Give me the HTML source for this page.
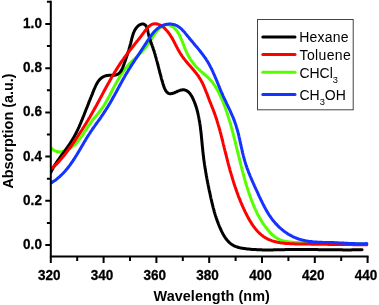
<!DOCTYPE html>
<html lang="en"><head><meta charset="utf-8"><title>Absorption spectra</title>
<style>html,body{margin:0;padding:0;background:#fff;overflow:hidden}svg{display:block}</style></head>
<body>
<svg width="379" height="305" viewBox="0 0 379 305" style="display:block">
<rect width="379" height="305" fill="#ffffff"/>
<clipPath id="pc"><rect x="50" y="0" width="329" height="256"/></clipPath>
<g fill="none" stroke-width="3" stroke-linecap="round" stroke-linejoin="round" clip-path="url(#pc)">
<path stroke="#55ff00" d="M50.9,147.6 L51.5,148.2 L52.1,148.8 L52.6,149.3 L53.2,149.7 L53.8,150.1 L54.5,150.5 L55.1,150.8 L55.7,151.1 L56.3,151.3 L57.0,151.5 L57.6,151.7 L58.2,151.8 L58.9,151.8 L59.5,151.9 L60.2,151.9 L60.8,151.9 L61.5,151.8 L62.1,151.7 L62.8,151.6 L63.4,151.4 L64.1,151.3 L64.7,151.1 L65.4,150.8 L66.0,150.6 L66.6,150.3 L67.3,150.0 L67.9,149.7 L68.5,149.3 L69.1,149.0 L69.7,148.6 L70.3,148.2 L70.9,147.8 L71.5,147.4 L72.0,146.9 L72.6,146.5 L73.2,146.0 L73.7,145.5 L74.2,145.1 L74.7,144.6 L75.2,144.1 L75.7,143.6 L76.2,143.1 L76.7,142.6 L77.2,142.0 L77.6,141.5 L78.1,141.0 L78.5,140.4 L79.0,139.9 L79.4,139.3 L79.8,138.8 L80.3,138.2 L80.7,137.7 L81.1,137.1 L81.5,136.5 L81.9,136.0 L82.3,135.4 L82.7,134.8 L83.1,134.2 L83.4,133.7 L83.8,133.1 L84.2,132.5 L84.6,131.9 L85.0,131.3 L85.3,130.7 L85.7,130.2 L86.1,129.6 L86.5,129.0 L86.8,128.4 L87.2,127.8 L87.6,127.2 L88.0,126.7 L88.4,126.1 L88.7,125.5 L89.1,124.9 L89.5,124.4 L89.9,123.8 L90.3,123.2 L90.7,122.7 L91.1,122.1 L91.6,121.5 L92.0,121.0 L92.4,120.4 L92.8,119.9 L93.3,119.3 L93.7,118.8 L94.1,118.3 L94.6,117.7 L95.0,117.2 L95.5,116.6 L95.9,116.1 L96.4,115.6 L96.8,115.0 L97.3,114.5 L97.7,113.9 L98.1,113.4 L98.6,112.9 L99.0,112.3 L99.5,111.8 L99.9,111.2 L100.3,110.7 L100.7,110.1 L101.1,109.6 L101.6,109.0 L102.0,108.4 L102.4,107.9 L102.8,107.3 L103.1,106.7 L103.5,106.2 L103.9,105.6 L104.3,105.0 L104.6,104.4 L105.0,103.8 L105.3,103.2 L105.7,102.6 L106.0,102.0 L106.4,101.4 L106.7,100.8 L107.1,100.2 L107.4,99.6 L107.7,99.0 L108.0,98.4 L108.4,97.8 L108.7,97.1 L109.0,96.5 L109.3,95.9 L109.7,95.3 L110.0,94.7 L110.3,94.0 L110.6,93.4 L111.0,92.8 L111.3,92.2 L111.6,91.5 L111.9,90.9 L112.2,90.3 L112.6,89.7 L112.9,89.0 L113.2,88.4 L113.6,87.8 L113.9,87.2 L114.2,86.5 L114.6,85.9 L114.9,85.3 L115.2,84.7 L115.6,84.0 L115.9,83.4 L116.3,82.8 L116.6,82.2 L116.9,81.6 L117.3,80.9 L117.7,80.3 L118.0,79.7 L118.4,79.1 L118.7,78.5 L119.1,77.9 L119.5,77.3 L119.8,76.7 L120.2,76.1 L120.6,75.5 L121.0,74.9 L121.4,74.3 L121.7,73.7 L122.1,73.2 L122.5,72.6 L122.9,72.0 L123.3,71.4 L123.8,70.9 L124.2,70.3 L124.6,69.8 L125.0,69.2 L125.4,68.6 L125.9,68.1 L126.3,67.6 L126.7,67.0 L127.2,66.5 L127.6,66.0 L128.1,65.4 L128.6,64.9 L129.0,64.4 L129.5,63.9 L130.0,63.4 L130.5,62.9 L130.9,62.4 L131.4,61.9 L131.9,61.4 L132.4,60.9 L132.9,60.4 L133.4,60.0 L133.9,59.5 L134.4,59.0 L134.9,58.5 L135.4,58.0 L135.9,57.6 L136.4,57.1 L136.9,56.6 L137.4,56.1 L137.9,55.6 L138.4,55.1 L138.9,54.7 L139.4,54.2 L139.9,53.7 L140.4,53.2 L140.9,52.7 L141.4,52.2 L141.8,51.7 L142.3,51.2 L142.8,50.7 L143.3,50.2 L143.7,49.7 L144.2,49.2 L144.7,48.6 L145.1,48.1 L145.5,47.6 L146.0,47.0 L146.4,46.5 L146.8,45.9 L147.3,45.4 L147.7,44.8 L148.1,44.2 L148.5,43.7 L148.9,43.1 L149.3,42.5 L149.6,41.9 L150.0,41.3 L150.4,40.7 L150.8,40.1 L151.2,39.5 L151.6,38.8 L151.9,38.2 L152.3,37.6 L152.7,37.0 L153.1,36.4 L153.5,35.8 L153.9,35.1 L154.3,34.5 L154.8,33.9 L155.2,33.3 L155.7,32.7 L156.1,32.1 L156.6,31.5 L157.1,31.0 L157.5,30.4 L158.0,29.9 L158.5,29.3 L159.0,28.8 L159.5,28.3 L160.0,27.9 L160.6,27.4 L161.1,27.0 L161.6,26.6 L162.2,26.2 L162.7,25.9 L163.3,25.6 L163.8,25.4 L164.4,25.1 L164.9,25.0 L165.5,24.8 L166.1,24.7 L166.6,24.7 L167.2,24.7 L167.8,24.7 L168.4,24.8 L168.9,24.9 L169.5,25.1 L170.1,25.3 L170.6,25.6 L171.2,25.8 L171.8,26.1 L172.3,26.5 L172.9,26.9 L173.4,27.3 L173.9,27.7 L174.4,28.2 L174.9,28.7 L175.4,29.2 L175.9,29.7 L176.3,30.2 L176.8,30.8 L177.2,31.4 L177.6,32.0 L178.0,32.6 L178.4,33.2 L178.8,33.9 L179.1,34.5 L179.5,35.2 L179.8,35.9 L180.1,36.5 L180.4,37.2 L180.7,37.9 L181.0,38.6 L181.3,39.3 L181.6,39.9 L181.9,40.6 L182.2,41.3 L182.5,42.0 L182.7,42.7 L183.0,43.4 L183.3,44.0 L183.5,44.7 L183.8,45.4 L184.0,46.0 L184.3,46.7 L184.5,47.3 L184.8,48.0 L185.1,48.6 L185.3,49.3 L185.6,49.9 L185.8,50.5 L186.1,51.2 L186.4,51.8 L186.7,52.4 L187.0,53.0 L187.2,53.6 L187.5,54.2 L187.9,54.9 L188.2,55.5 L188.5,56.1 L188.8,56.7 L189.2,57.2 L189.5,57.8 L189.9,58.4 L190.2,59.0 L190.6,59.6 L191.0,60.2 L191.4,60.7 L191.8,61.3 L192.2,61.9 L192.6,62.4 L193.1,63.0 L193.5,63.5 L193.9,64.1 L194.4,64.6 L194.8,65.1 L195.3,65.7 L195.8,66.2 L196.3,66.7 L196.7,67.2 L197.2,67.7 L197.7,68.2 L198.2,68.7 L198.7,69.2 L199.2,69.7 L199.8,70.2 L200.3,70.7 L200.8,71.1 L201.3,71.6 L201.9,72.1 L202.4,72.5 L202.9,73.0 L203.5,73.5 L204.0,73.9 L204.5,74.4 L205.0,74.9 L205.6,75.3 L206.1,75.8 L206.6,76.3 L207.1,76.7 L207.6,77.2 L208.2,77.7 L208.7,78.2 L209.1,78.7 L209.6,79.2 L210.1,79.7 L210.6,80.2 L211.0,80.7 L211.5,81.2 L211.9,81.8 L212.4,82.3 L212.8,82.9 L213.2,83.4 L213.6,84.0 L214.0,84.6 L214.4,85.1 L214.8,85.7 L215.2,86.3 L215.5,86.9 L215.9,87.5 L216.3,88.1 L216.6,88.7 L216.9,89.3 L217.3,89.9 L217.6,90.5 L218.0,91.1 L218.3,91.7 L218.6,92.3 L218.9,93.0 L219.2,93.6 L219.5,94.2 L219.8,94.9 L220.2,95.5 L220.4,96.1 L220.7,96.7 L221.0,97.4 L221.3,98.0 L221.6,98.7 L221.9,99.3 L222.2,99.9 L222.4,100.6 L222.7,101.2 L223.0,101.9 L223.2,102.5 L223.5,103.2 L223.8,103.8 L224.0,104.5 L224.3,105.1 L224.5,105.8 L224.8,106.4 L225.0,107.1 L225.3,107.7 L225.5,108.4 L225.7,109.1 L226.0,109.7 L226.2,110.4 L226.4,111.0 L226.7,111.7 L226.9,112.4 L227.1,113.0 L227.3,113.7 L227.6,114.4 L227.8,115.0 L228.0,115.7 L228.2,116.4 L228.4,117.0 L228.6,117.7 L228.8,118.4 L229.0,119.1 L229.2,119.7 L229.4,120.4 L229.6,121.1 L229.8,121.7 L230.0,122.4 L230.2,123.1 L230.4,123.8 L230.6,124.4 L230.8,125.1 L231.0,125.8 L231.2,126.5 L231.4,127.2 L231.6,127.8 L231.8,128.5 L231.9,129.2 L232.1,129.9 L232.3,130.5 L232.5,131.2 L232.7,131.9 L232.8,132.6 L233.0,133.2 L233.2,133.9 L233.4,134.6 L233.6,135.3 L233.7,136.0 L233.9,136.6 L234.1,137.3 L234.2,138.0 L234.4,138.7 L234.6,139.4 L234.8,140.0 L234.9,140.7 L235.1,141.4 L235.3,142.1 L235.4,142.7 L235.6,143.4 L235.8,144.1 L235.9,144.8 L236.1,145.5 L236.3,146.1 L236.4,146.8 L236.6,147.5 L236.8,148.2 L236.9,148.9 L237.1,149.5 L237.3,150.2 L237.4,150.9 L237.6,151.6 L237.8,152.3 L237.9,152.9 L238.1,153.6 L238.3,154.3 L238.4,155.0 L238.6,155.6 L238.8,156.3 L238.9,157.0 L239.1,157.7 L239.3,158.4 L239.4,159.0 L239.6,159.7 L239.8,160.4 L239.9,161.1 L240.1,161.8 L240.3,162.4 L240.4,163.1 L240.6,163.8 L240.8,164.5 L241.0,165.1 L241.1,165.8 L241.3,166.5 L241.5,167.2 L241.7,167.8 L241.8,168.5 L242.0,169.2 L242.2,169.9 L242.4,170.5 L242.5,171.2 L242.7,171.9 L242.9,172.6 L243.1,173.2 L243.3,173.9 L243.4,174.6 L243.6,175.3 L243.8,175.9 L244.0,176.6 L244.2,177.3 L244.4,178.0 L244.6,178.6 L244.7,179.3 L244.9,180.0 L245.1,180.6 L245.3,181.3 L245.5,182.0 L245.7,182.7 L245.9,183.3 L246.1,184.0 L246.3,184.7 L246.5,185.3 L246.7,186.0 L246.9,186.7 L247.1,187.3 L247.4,188.0 L247.6,188.7 L247.8,189.4 L248.0,190.0 L248.2,190.7 L248.4,191.4 L248.6,192.0 L248.9,192.7 L249.1,193.3 L249.3,194.0 L249.5,194.7 L249.8,195.3 L250.0,196.0 L250.2,196.7 L250.5,197.3 L250.7,198.0 L251.0,198.6 L251.2,199.3 L251.4,200.0 L251.7,200.6 L251.9,201.3 L252.2,201.9 L252.5,202.6 L252.7,203.2 L253.0,203.9 L253.2,204.6 L253.5,205.2 L253.8,205.9 L254.1,206.5 L254.3,207.1 L254.6,207.8 L254.9,208.4 L255.2,209.1 L255.5,209.7 L255.8,210.3 L256.1,211.0 L256.4,211.6 L256.7,212.2 L257.0,212.9 L257.3,213.5 L257.6,214.1 L257.9,214.8 L258.3,215.4 L258.6,216.0 L258.9,216.6 L259.3,217.2 L259.6,217.8 L259.9,218.4 L260.3,219.0 L260.6,219.6 L261.0,220.2 L261.4,220.8 L261.7,221.4 L262.1,222.0 L262.5,222.6 L262.9,223.2 L263.3,223.8 L263.7,224.4 L264.1,224.9 L264.5,225.5 L264.9,226.1 L265.3,226.6 L265.7,227.2 L266.1,227.8 L266.6,228.3 L267.0,228.9 L267.5,229.4 L267.9,230.0 L268.4,230.5 L268.8,231.0 L269.3,231.6 L269.8,232.1 L270.2,232.6 L270.7,233.1 L271.2,233.6 L271.7,234.1 L272.2,234.6 L272.7,235.0 L273.3,235.5 L273.8,235.9 L274.3,236.4 L274.9,236.8 L275.4,237.2 L276.0,237.6 L276.6,238.0 L277.2,238.3 L277.7,238.6 L278.3,239.0 L279.0,239.3 L279.6,239.6 L280.2,239.8 L280.8,240.1 L281.5,240.3 L282.1,240.5 L282.8,240.7 L283.5,240.9 L284.1,241.1 L284.8,241.2 L285.5,241.4 L286.2,241.5 L286.9,241.6 L287.6,241.7 L288.3,241.8 L289.0,241.9 L289.7,242.0 L290.4,242.1 L291.1,242.2 L291.8,242.2 L292.5,242.3 L293.2,242.3 L293.9,242.4 L294.7,242.4 L295.4,242.5 L296.1,242.5 L296.8,242.5 L297.5,242.6 L298.2,242.6 L298.9,242.7 L299.6,242.7 L300.3,242.7 L301.0,242.8 L301.7,242.8 L302.4,242.8 L303.1,242.9 L303.8,242.9 L304.5,242.9 L305.2,243.0 L305.9,243.0 L306.6,243.0 L307.3,243.0 L308.0,243.1 L308.7,243.1 L309.4,243.1 L310.1,243.1 L310.8,243.2 L311.5,243.2 L312.2,243.2 L312.9,243.2 L313.6,243.3 L314.3,243.3 L315.0,243.3 L315.7,243.3 L316.4,243.4 L317.1,243.4 L317.8,243.4 L318.5,243.4 L319.2,243.4 L319.9,243.5 L320.6,243.5 L321.3,243.5 L322.0,243.5 L322.7,243.5 L323.4,243.6 L324.1,243.6 L324.8,243.6 L325.5,243.6 L326.2,243.6 L326.9,243.7 L327.6,243.7 L328.3,243.7 L329.0,243.7 L329.7,243.7 L330.4,243.7 L331.1,243.8 L331.8,243.8 L332.5,243.8 L333.2,243.8 L333.9,243.8 L334.6,243.8 L335.3,243.8 L336.0,243.9 L336.7,243.9 L337.4,243.9 L338.1,243.9 L338.8,243.9 L339.5,243.9 L340.2,243.9 L340.9,243.9 L341.6,243.9 L342.3,244.0 L343.0,244.0 L343.7,244.0 L344.4,244.0 L345.1,244.0 L345.8,244.0 L346.5,244.0 L347.2,244.0 L347.9,244.0 L348.6,244.0 L349.3,244.0 L350.0,244.0 L350.7,244.0 L351.4,244.1 L352.1,244.1 L352.8,244.1 L353.5,244.1 L354.2,244.1 L354.9,244.1 L355.6,244.1 L356.3,244.1 L357.0,244.1 L357.7,244.1 L358.4,244.1 L359.1,244.1 L359.8,244.1 L360.5,244.1 L361.2,244.1 L361.9,244.1 L362.6,244.2 L363.3,244.2 L364.0,244.2 L364.7,244.2 L365.4,244.2 L366.1,244.2 L366.8,244.2 L366.8,244.2"/>
<path stroke="#000000" d="M50.8,172.5 L51.1,171.9 L51.4,171.2 L51.7,170.6 L52.0,170.0 L52.4,169.4 L52.7,168.8 L53.0,168.1 L53.4,167.5 L53.7,166.9 L54.1,166.3 L54.5,165.7 L54.8,165.1 L55.2,164.5 L55.6,163.9 L55.9,163.4 L56.3,162.8 L56.7,162.2 L57.1,161.6 L57.5,161.0 L57.9,160.5 L58.3,159.9 L58.7,159.3 L59.1,158.7 L59.5,158.2 L59.9,157.6 L60.3,157.0 L60.7,156.5 L61.1,155.9 L61.5,155.3 L61.9,154.8 L62.4,154.2 L62.8,153.6 L63.2,153.1 L63.6,152.5 L64.0,151.9 L64.4,151.4 L64.8,150.8 L65.3,150.2 L65.7,149.7 L66.1,149.1 L66.5,148.5 L66.9,148.0 L67.3,147.4 L67.7,146.8 L68.1,146.2 L68.5,145.7 L68.9,145.1 L69.3,144.5 L69.7,143.9 L70.1,143.4 L70.5,142.8 L70.8,142.2 L71.2,141.6 L71.6,141.0 L72.0,140.4 L72.3,139.8 L72.7,139.2 L73.1,138.6 L73.4,138.0 L73.8,137.4 L74.1,136.8 L74.4,136.2 L74.8,135.6 L75.1,134.9 L75.4,134.3 L75.7,133.7 L76.1,133.1 L76.4,132.5 L76.7,131.8 L77.0,131.2 L77.3,130.6 L77.6,129.9 L77.9,129.3 L78.2,128.7 L78.5,128.0 L78.8,127.4 L79.1,126.8 L79.4,126.1 L79.6,125.5 L79.9,124.8 L80.2,124.2 L80.5,123.5 L80.8,122.9 L81.0,122.2 L81.3,121.6 L81.6,120.9 L81.8,120.3 L82.1,119.6 L82.4,119.0 L82.6,118.4 L82.9,117.7 L83.1,117.1 L83.4,116.4 L83.7,115.8 L83.9,115.1 L84.2,114.5 L84.4,113.8 L84.7,113.2 L84.9,112.5 L85.2,111.9 L85.4,111.2 L85.7,110.6 L85.9,109.9 L86.2,109.3 L86.4,108.6 L86.7,108.0 L87.0,107.3 L87.2,106.7 L87.5,106.1 L87.7,105.4 L88.0,104.8 L88.2,104.1 L88.5,103.5 L88.7,102.9 L89.0,102.2 L89.2,101.6 L89.5,100.9 L89.8,100.3 L90.0,99.6 L90.3,99.0 L90.5,98.4 L90.8,97.7 L91.1,97.0 L91.3,96.4 L91.6,95.7 L91.9,95.1 L92.1,94.4 L92.4,93.8 L92.7,93.1 L92.9,92.4 L93.2,91.7 L93.5,91.1 L93.7,90.4 L94.0,89.7 L94.3,89.0 L94.6,88.4 L94.9,87.7 L95.2,87.0 L95.5,86.3 L95.8,85.7 L96.1,85.0 L96.4,84.4 L96.8,83.8 L97.1,83.2 L97.5,82.6 L97.8,82.0 L98.2,81.4 L98.6,80.9 L99.1,80.3 L99.5,79.8 L99.9,79.3 L100.4,78.9 L100.9,78.4 L101.4,78.0 L101.9,77.6 L102.4,77.3 L103.0,76.9 L103.6,76.6 L104.2,76.4 L104.8,76.1 L105.4,75.9 L106.1,75.7 L106.8,75.6 L107.5,75.5 L108.2,75.4 L108.9,75.3 L109.7,75.3 L110.4,75.3 L111.2,75.3 L112.0,75.3 L112.7,75.3 L113.5,75.3 L114.2,75.3 L114.9,75.2 L115.6,75.1 L116.2,74.9 L116.8,74.7 L117.4,74.4 L118.0,74.1 L118.5,73.7 L119.0,73.3 L119.5,72.9 L119.9,72.4 L120.3,71.9 L120.7,71.3 L121.1,70.8 L121.5,70.2 L121.8,69.5 L122.1,68.9 L122.4,68.2 L122.7,67.6 L123.0,66.9 L123.3,66.2 L123.5,65.5 L123.8,64.8 L124.1,64.1 L124.3,63.4 L124.5,62.7 L124.8,62.0 L125.0,61.4 L125.3,60.7 L125.5,60.0 L125.7,59.3 L126.0,58.7 L126.2,58.0 L126.4,57.4 L126.6,56.7 L126.8,56.1 L127.1,55.4 L127.3,54.8 L127.5,54.1 L127.7,53.5 L127.9,52.8 L128.1,52.2 L128.3,51.5 L128.5,50.9 L128.7,50.2 L128.9,49.6 L129.1,48.9 L129.3,48.3 L129.5,47.6 L129.7,46.9 L129.9,46.3 L130.0,45.6 L130.2,44.9 L130.4,44.2 L130.6,43.6 L130.8,42.9 L130.9,42.2 L131.1,41.5 L131.3,40.8 L131.5,40.1 L131.6,39.3 L131.8,38.6 L132.0,37.9 L132.2,37.2 L132.4,36.5 L132.6,35.8 L132.8,35.1 L133.0,34.4 L133.3,33.7 L133.5,33.0 L133.8,32.3 L134.1,31.7 L134.4,31.0 L134.7,30.4 L135.0,29.8 L135.4,29.2 L135.8,28.6 L136.2,28.0 L136.6,27.5 L137.1,27.0 L137.5,26.5 L138.0,26.0 L138.6,25.6 L139.1,25.2 L139.7,24.8 L140.3,24.5 L140.9,24.3 L141.5,24.1 L142.1,24.0 L142.7,24.0 L143.2,24.0 L143.8,24.2 L144.3,24.4 L144.8,24.7 L145.3,25.1 L145.7,25.5 L146.1,26.0 L146.4,26.6 L146.7,27.2 L147.0,27.8 L147.2,28.5 L147.4,29.2 L147.6,29.9 L147.8,30.6 L147.9,31.3 L148.1,32.1 L148.2,32.8 L148.4,33.6 L148.6,34.3 L148.7,35.1 L148.9,35.8 L149.1,36.5 L149.3,37.2 L149.5,37.9 L149.7,38.6 L150.0,39.3 L150.2,40.0 L150.4,40.7 L150.6,41.4 L150.9,42.1 L151.1,42.7 L151.3,43.4 L151.6,44.1 L151.8,44.7 L152.1,45.4 L152.3,46.1 L152.5,46.7 L152.8,47.4 L153.0,48.0 L153.2,48.7 L153.4,49.3 L153.6,50.0 L153.9,50.6 L154.1,51.3 L154.3,51.9 L154.5,52.6 L154.7,53.2 L154.9,53.9 L155.1,54.5 L155.3,55.2 L155.4,55.8 L155.6,56.5 L155.8,57.1 L156.0,57.8 L156.2,58.5 L156.4,59.1 L156.5,59.8 L156.7,60.4 L156.9,61.1 L157.1,61.7 L157.2,62.4 L157.4,63.0 L157.6,63.7 L157.8,64.4 L157.9,65.0 L158.1,65.7 L158.3,66.4 L158.5,67.0 L158.6,67.7 L158.8,68.4 L159.0,69.0 L159.1,69.7 L159.3,70.4 L159.5,71.1 L159.7,71.8 L159.8,72.5 L160.0,73.1 L160.2,73.8 L160.4,74.5 L160.6,75.2 L160.8,75.9 L161.0,76.6 L161.1,77.3 L161.3,78.0 L161.5,78.8 L161.7,79.5 L161.9,80.2 L162.1,80.9 L162.4,81.6 L162.6,82.4 L162.8,83.1 L163.0,83.9 L163.2,84.6 L163.5,85.3 L163.7,86.0 L164.0,86.8 L164.2,87.5 L164.5,88.1 L164.8,88.8 L165.1,89.4 L165.4,90.0 L165.7,90.6 L166.1,91.1 L166.4,91.6 L166.8,92.1 L167.2,92.5 L167.7,92.8 L168.1,93.1 L168.6,93.4 L169.1,93.6 L169.7,93.7 L170.2,93.7 L170.8,93.7 L171.4,93.6 L172.1,93.5 L172.8,93.3 L173.5,93.1 L174.2,92.8 L174.9,92.5 L175.6,92.2 L176.4,91.9 L177.1,91.5 L177.8,91.2 L178.6,90.9 L179.3,90.6 L180.0,90.4 L180.7,90.1 L181.4,90.0 L182.1,89.9 L182.8,89.8 L183.4,89.8 L184.0,89.8 L184.6,89.9 L185.2,90.1 L185.8,90.3 L186.3,90.5 L186.8,90.8 L187.4,91.2 L187.8,91.5 L188.3,91.9 L188.8,92.4 L189.2,92.8 L189.7,93.3 L190.1,93.8 L190.5,94.4 L190.9,95.0 L191.3,95.6 L191.7,96.2 L192.0,96.8 L192.4,97.5 L192.7,98.1 L193.0,98.8 L193.3,99.5 L193.6,100.1 L193.9,100.8 L194.2,101.5 L194.5,102.2 L194.7,102.9 L195.0,103.6 L195.2,104.2 L195.5,104.9 L195.7,105.6 L195.9,106.3 L196.2,107.0 L196.4,107.6 L196.6,108.3 L196.8,109.0 L197.0,109.7 L197.1,110.4 L197.3,111.0 L197.5,111.7 L197.7,112.4 L197.8,113.1 L198.0,113.7 L198.1,114.4 L198.3,115.1 L198.4,115.8 L198.6,116.4 L198.7,117.1 L198.8,117.8 L199.0,118.5 L199.1,119.2 L199.2,119.8 L199.3,120.5 L199.4,121.2 L199.6,121.9 L199.7,122.6 L199.8,123.3 L199.9,123.9 L200.0,124.6 L200.1,125.3 L200.2,126.0 L200.3,126.7 L200.4,127.4 L200.5,128.1 L200.5,128.7 L200.6,129.4 L200.7,130.1 L200.8,130.8 L200.9,131.5 L201.0,132.2 L201.0,132.9 L201.1,133.6 L201.2,134.3 L201.3,135.0 L201.3,135.7 L201.4,136.4 L201.5,137.1 L201.5,137.8 L201.6,138.4 L201.7,139.1 L201.7,139.8 L201.8,140.5 L201.9,141.2 L201.9,141.9 L202.0,142.6 L202.1,143.3 L202.1,144.0 L202.2,144.7 L202.3,145.4 L202.3,146.1 L202.4,146.8 L202.5,147.5 L202.6,148.2 L202.6,148.9 L202.7,149.6 L202.8,150.3 L202.8,151.0 L202.9,151.7 L203.0,152.4 L203.1,153.1 L203.1,153.8 L203.2,154.5 L203.3,155.2 L203.4,155.9 L203.5,156.6 L203.6,157.3 L203.6,158.0 L203.7,158.7 L203.8,159.4 L203.9,160.1 L204.0,160.8 L204.1,161.5 L204.2,162.2 L204.3,162.9 L204.4,163.6 L204.5,164.3 L204.6,164.9 L204.7,165.6 L204.8,166.3 L204.9,167.0 L205.0,167.7 L205.1,168.4 L205.3,169.1 L205.4,169.8 L205.5,170.5 L205.6,171.2 L205.7,171.9 L205.8,172.6 L206.0,173.3 L206.1,174.0 L206.2,174.7 L206.3,175.4 L206.4,176.0 L206.6,176.7 L206.7,177.4 L206.8,178.1 L206.9,178.8 L207.1,179.5 L207.2,180.2 L207.3,180.9 L207.5,181.6 L207.6,182.3 L207.7,182.9 L207.9,183.6 L208.0,184.3 L208.2,185.0 L208.3,185.7 L208.4,186.4 L208.6,187.1 L208.7,187.7 L208.8,188.4 L209.0,189.1 L209.1,189.8 L209.3,190.5 L209.4,191.2 L209.6,191.8 L209.7,192.5 L209.9,193.2 L210.0,193.9 L210.2,194.6 L210.3,195.2 L210.4,195.9 L210.6,196.6 L210.7,197.3 L210.9,198.0 L211.0,198.6 L211.2,199.3 L211.4,200.0 L211.5,200.7 L211.7,201.3 L211.8,202.0 L212.0,202.7 L212.1,203.4 L212.3,204.0 L212.5,204.7 L212.6,205.4 L212.8,206.0 L213.0,206.7 L213.1,207.4 L213.3,208.1 L213.5,208.7 L213.7,209.4 L213.9,210.1 L214.0,210.7 L214.2,211.4 L214.4,212.1 L214.6,212.7 L214.8,213.4 L215.0,214.1 L215.2,214.7 L215.4,215.4 L215.6,216.1 L215.8,216.7 L216.1,217.4 L216.3,218.1 L216.5,218.7 L216.7,219.4 L217.0,220.1 L217.2,220.7 L217.4,221.4 L217.7,222.0 L217.9,222.7 L218.2,223.4 L218.4,224.0 L218.7,224.7 L219.0,225.3 L219.2,226.0 L219.5,226.7 L219.8,227.3 L220.1,228.0 L220.4,228.6 L220.7,229.3 L221.0,230.0 L221.3,230.6 L221.6,231.3 L221.9,231.9 L222.3,232.6 L222.6,233.2 L222.9,233.9 L223.3,234.5 L223.7,235.1 L224.0,235.8 L224.4,236.4 L224.8,237.0 L225.2,237.6 L225.6,238.2 L226.0,238.7 L226.4,239.3 L226.8,239.8 L227.3,240.4 L227.7,240.9 L228.2,241.4 L228.7,241.9 L229.2,242.4 L229.7,242.8 L230.2,243.3 L230.7,243.7 L231.2,244.1 L231.8,244.5 L232.3,244.8 L232.9,245.2 L233.5,245.5 L234.1,245.8 L234.7,246.1 L235.3,246.4 L236.0,246.6 L236.6,246.8 L237.3,247.0 L237.9,247.3 L238.6,247.4 L239.2,247.6 L239.9,247.8 L240.6,247.9 L241.3,248.1 L242.0,248.2 L242.7,248.3 L243.4,248.4 L244.1,248.5 L244.8,248.6 L245.5,248.7 L246.2,248.8 L246.9,248.9 L247.6,249.0 L248.3,249.1 L249.0,249.1 L249.7,249.2 L250.4,249.3 L251.1,249.3 L251.8,249.4 L252.5,249.4 L253.2,249.5 L254.0,249.5 L254.7,249.6 L255.4,249.6 L256.1,249.6 L256.8,249.7 L257.5,249.7 L258.2,249.7 L258.9,249.8 L259.6,249.8 L260.3,249.8 L261.0,249.8 L261.7,249.8 L262.4,249.9 L263.1,249.9 L263.8,249.9 L264.5,249.9 L265.2,249.9 L265.9,249.9 L266.6,249.9 L267.3,249.9 L268.0,249.9 L268.7,249.9 L269.4,249.9 L270.1,249.9 L270.8,249.9 L271.5,249.9 L272.2,249.9 L272.9,249.9 L273.6,249.8 L274.3,249.8 L275.0,249.8 L275.7,249.8 L276.4,249.8 L277.1,249.8 L277.8,249.8 L278.5,249.8 L279.1,249.8 L279.8,249.7 L280.5,249.7 L281.2,249.7 L281.9,249.7 L282.6,249.7 L283.3,249.7 L284.0,249.7 L284.7,249.7 L285.4,249.6 L286.1,249.6 L286.8,249.6 L287.5,249.6 L288.2,249.6 L288.9,249.6 L289.6,249.6 L290.3,249.6 L291.0,249.6 L291.7,249.6 L292.4,249.6 L293.1,249.6 L293.8,249.6 L294.5,249.6 L295.2,249.6 L295.9,249.5 L296.6,249.5 L297.3,249.5 L298.0,249.5 L298.7,249.5 L299.4,249.5 L300.1,249.5 L300.8,249.5 L301.5,249.5 L302.2,249.5 L302.9,249.5 L303.6,249.6 L304.3,249.6 L305.0,249.6 L305.7,249.6 L306.4,249.6 L307.1,249.6 L307.8,249.6 L308.5,249.6 L309.2,249.6 L309.9,249.6 L310.6,249.6 L311.3,249.6 L312.0,249.6 L312.7,249.6 L313.4,249.6 L314.1,249.6 L314.8,249.6 L315.5,249.6 L316.2,249.6 L316.9,249.6 L317.6,249.6 L318.3,249.7 L319.0,249.7 L319.7,249.7 L320.4,249.7 L321.1,249.7 L321.8,249.7 L322.5,249.7 L323.2,249.7 L323.9,249.7 L324.6,249.7 L325.3,249.7 L326.0,249.7 L326.7,249.7 L327.4,249.7 L328.1,249.7 L328.8,249.8 L329.5,249.8 L330.2,249.8 L330.9,249.8 L331.6,249.8 L332.3,249.8 L333.0,249.8 L333.7,249.8 L334.4,249.8 L335.1,249.8 L335.8,249.8 L336.5,249.8 L337.2,249.8 L337.9,249.8 L338.7,249.8 L339.4,249.8 L340.1,249.8 L340.8,249.8 L341.5,249.8 L342.2,249.8 L342.9,249.9 L343.6,249.9 L344.3,249.9 L345.0,249.9 L345.7,249.9 L346.4,249.9 L347.1,249.9 L347.8,249.9 L348.5,249.9 L349.2,249.9 L349.9,249.9 L350.6,249.9 L351.3,249.9 L352.0,249.8 L352.7,249.8 L353.3,249.8 L354.0,249.8 L354.7,249.8 L355.4,249.8 L356.1,249.8 L356.8,249.8 L357.5,249.8 L358.2,249.8 L358.9,249.8 L359.6,249.8 L360.3,249.8 L361.0,249.8 L361.7,249.8 L362.0,249.7"/>
<path stroke="#ff0000" d="M50.8,169.3 L51.3,168.9 L51.9,168.4 L52.4,167.9 L52.9,167.5 L53.4,167.0 L53.9,166.5 L54.4,166.1 L54.9,165.6 L55.4,165.1 L55.9,164.6 L56.4,164.1 L56.9,163.6 L57.4,163.1 L57.9,162.6 L58.3,162.1 L58.8,161.6 L59.3,161.1 L59.7,160.6 L60.2,160.0 L60.7,159.5 L61.1,159.0 L61.6,158.5 L62.0,157.9 L62.5,157.4 L62.9,156.9 L63.4,156.3 L63.8,155.8 L64.2,155.2 L64.7,154.7 L65.1,154.1 L65.5,153.6 L66.0,153.0 L66.4,152.5 L66.8,151.9 L67.3,151.3 L67.7,150.8 L68.1,150.2 L68.5,149.6 L68.9,149.1 L69.3,148.5 L69.7,147.9 L70.2,147.4 L70.6,146.8 L71.0,146.2 L71.4,145.7 L71.8,145.1 L72.2,144.5 L72.6,143.9 L73.0,143.4 L73.4,142.8 L73.8,142.2 L74.2,141.6 L74.6,141.0 L75.0,140.5 L75.3,139.9 L75.7,139.3 L76.1,138.7 L76.5,138.1 L76.9,137.6 L77.3,137.0 L77.7,136.4 L78.1,135.8 L78.5,135.2 L78.8,134.7 L79.2,134.1 L79.6,133.5 L80.0,132.9 L80.4,132.3 L80.8,131.7 L81.1,131.2 L81.5,130.6 L81.9,130.0 L82.3,129.4 L82.6,128.8 L83.0,128.2 L83.4,127.6 L83.8,127.1 L84.1,126.5 L84.5,125.9 L84.9,125.3 L85.2,124.7 L85.6,124.1 L86.0,123.5 L86.3,122.9 L86.7,122.3 L87.1,121.7 L87.4,121.1 L87.8,120.5 L88.1,119.9 L88.5,119.3 L88.8,118.7 L89.2,118.1 L89.6,117.5 L89.9,116.9 L90.3,116.3 L90.6,115.7 L91.0,115.1 L91.3,114.5 L91.7,113.9 L92.0,113.3 L92.3,112.7 L92.7,112.1 L93.0,111.5 L93.4,110.9 L93.7,110.3 L94.1,109.7 L94.4,109.0 L94.7,108.4 L95.1,107.8 L95.4,107.2 L95.8,106.6 L96.1,106.0 L96.4,105.4 L96.8,104.7 L97.1,104.1 L97.4,103.5 L97.8,102.9 L98.1,102.3 L98.4,101.7 L98.8,101.0 L99.1,100.4 L99.4,99.8 L99.8,99.2 L100.1,98.6 L100.4,97.9 L100.8,97.3 L101.1,96.7 L101.4,96.1 L101.8,95.5 L102.1,94.8 L102.4,94.2 L102.7,93.6 L103.1,93.0 L103.4,92.4 L103.7,91.8 L104.1,91.1 L104.4,90.5 L104.7,89.9 L105.1,89.3 L105.4,88.7 L105.7,88.0 L106.1,87.4 L106.4,86.8 L106.8,86.2 L107.1,85.6 L107.4,85.0 L107.8,84.4 L108.1,83.7 L108.4,83.1 L108.8,82.5 L109.1,81.9 L109.5,81.3 L109.8,80.7 L110.2,80.1 L110.5,79.5 L110.9,78.9 L111.2,78.2 L111.5,77.6 L111.9,77.0 L112.2,76.4 L112.6,75.8 L113.0,75.2 L113.3,74.6 L113.7,74.0 L114.0,73.4 L114.4,72.8 L114.7,72.2 L115.1,71.6 L115.5,71.0 L115.8,70.4 L116.2,69.8 L116.6,69.3 L116.9,68.7 L117.3,68.1 L117.7,67.5 L118.0,66.9 L118.4,66.3 L118.8,65.7 L119.2,65.2 L119.6,64.6 L119.9,64.0 L120.3,63.4 L120.7,62.8 L121.1,62.3 L121.5,61.7 L121.9,61.1 L122.3,60.6 L122.7,60.0 L123.1,59.4 L123.5,58.9 L123.9,58.3 L124.3,57.7 L124.7,57.2 L125.1,56.6 L125.5,56.1 L125.9,55.5 L126.3,55.0 L126.8,54.4 L127.2,53.9 L127.6,53.3 L128.0,52.8 L128.4,52.2 L128.9,51.7 L129.3,51.1 L129.7,50.6 L130.2,50.0 L130.6,49.5 L131.0,48.9 L131.5,48.4 L131.9,47.8 L132.3,47.3 L132.8,46.7 L133.2,46.2 L133.6,45.6 L134.1,45.1 L134.5,44.5 L134.9,44.0 L135.4,43.4 L135.8,42.9 L136.3,42.3 L136.7,41.8 L137.1,41.2 L137.6,40.6 L138.0,40.1 L138.5,39.5 L138.9,39.0 L139.4,38.4 L139.8,37.8 L140.2,37.3 L140.7,36.7 L141.1,36.1 L141.6,35.5 L142.0,35.0 L142.4,34.4 L142.9,33.8 L143.3,33.2 L143.8,32.6 L144.2,32.0 L144.6,31.4 L145.1,30.9 L145.5,30.3 L146.0,29.7 L146.4,29.1 L146.9,28.6 L147.3,28.0 L147.8,27.5 L148.3,27.0 L148.8,26.6 L149.3,26.1 L149.8,25.7 L150.3,25.3 L150.9,25.0 L151.4,24.7 L152.0,24.4 L152.6,24.2 L153.2,24.0 L153.8,23.9 L154.5,23.8 L155.1,23.8 L155.8,23.8 L156.4,23.9 L157.1,24.0 L157.8,24.1 L158.4,24.3 L159.1,24.6 L159.7,24.8 L160.4,25.2 L161.0,25.5 L161.6,25.9 L162.2,26.3 L162.8,26.7 L163.3,27.2 L163.9,27.7 L164.4,28.1 L164.9,28.6 L165.4,29.1 L165.9,29.7 L166.4,30.2 L166.9,30.7 L167.3,31.2 L167.8,31.8 L168.2,32.3 L168.6,32.9 L169.0,33.5 L169.5,34.0 L169.8,34.6 L170.2,35.2 L170.6,35.8 L171.0,36.4 L171.4,37.0 L171.7,37.6 L172.1,38.2 L172.4,38.8 L172.8,39.4 L173.1,40.0 L173.4,40.6 L173.8,41.3 L174.1,41.9 L174.4,42.5 L174.8,43.1 L175.1,43.8 L175.4,44.4 L175.7,45.0 L176.1,45.6 L176.4,46.3 L176.7,46.9 L177.0,47.5 L177.4,48.1 L177.7,48.8 L178.0,49.4 L178.3,50.0 L178.7,50.6 L179.0,51.2 L179.4,51.8 L179.7,52.4 L180.1,53.1 L180.5,53.6 L180.8,54.2 L181.2,54.8 L181.6,55.4 L182.0,56.0 L182.4,56.6 L182.8,57.1 L183.2,57.7 L183.6,58.3 L184.0,58.8 L184.5,59.4 L184.9,59.9 L185.3,60.4 L185.8,61.0 L186.2,61.5 L186.7,62.1 L187.1,62.6 L187.6,63.1 L188.0,63.7 L188.5,64.2 L189.0,64.7 L189.4,65.3 L189.9,65.8 L190.3,66.3 L190.8,66.8 L191.3,67.4 L191.7,67.9 L192.2,68.4 L192.6,68.9 L193.1,69.5 L193.5,70.0 L194.0,70.5 L194.4,71.1 L194.9,71.6 L195.3,72.2 L195.8,72.7 L196.2,73.3 L196.6,73.8 L197.0,74.4 L197.4,74.9 L197.9,75.5 L198.3,76.0 L198.6,76.6 L199.0,77.2 L199.4,77.8 L199.8,78.4 L200.1,78.9 L200.5,79.5 L200.8,80.1 L201.2,80.8 L201.5,81.4 L201.8,82.0 L202.2,82.6 L202.5,83.2 L202.8,83.9 L203.1,84.5 L203.4,85.1 L203.7,85.8 L203.9,86.4 L204.2,87.0 L204.5,87.7 L204.8,88.3 L205.0,89.0 L205.3,89.6 L205.6,90.3 L205.8,91.0 L206.1,91.6 L206.3,92.3 L206.6,92.9 L206.9,93.6 L207.1,94.2 L207.4,94.9 L207.6,95.6 L207.9,96.2 L208.1,96.9 L208.4,97.5 L208.6,98.2 L208.9,98.8 L209.1,99.5 L209.4,100.2 L209.6,100.8 L209.9,101.5 L210.1,102.1 L210.4,102.7 L210.7,103.4 L210.9,104.0 L211.2,104.7 L211.4,105.3 L211.7,106.0 L211.9,106.6 L212.2,107.3 L212.5,107.9 L212.7,108.6 L213.0,109.2 L213.2,109.9 L213.5,110.5 L213.7,111.1 L213.9,111.8 L214.2,112.4 L214.4,113.1 L214.7,113.8 L214.9,114.4 L215.1,115.1 L215.4,115.7 L215.6,116.4 L215.8,117.0 L216.0,117.7 L216.3,118.4 L216.5,119.0 L216.7,119.7 L216.9,120.4 L217.1,121.0 L217.3,121.7 L217.5,122.4 L217.7,123.0 L217.9,123.7 L218.1,124.4 L218.3,125.1 L218.5,125.7 L218.7,126.4 L218.9,127.1 L219.1,127.8 L219.3,128.4 L219.5,129.1 L219.7,129.8 L219.9,130.5 L220.1,131.2 L220.2,131.8 L220.4,132.5 L220.6,133.2 L220.8,133.9 L221.0,134.6 L221.1,135.3 L221.3,135.9 L221.5,136.6 L221.7,137.3 L221.8,138.0 L222.0,138.7 L222.2,139.4 L222.3,140.0 L222.5,140.7 L222.7,141.4 L222.9,142.1 L223.0,142.8 L223.2,143.5 L223.4,144.1 L223.5,144.8 L223.7,145.5 L223.9,146.2 L224.0,146.9 L224.2,147.6 L224.4,148.2 L224.5,148.9 L224.7,149.6 L224.9,150.3 L225.0,151.0 L225.2,151.6 L225.4,152.3 L225.6,153.0 L225.7,153.7 L225.9,154.3 L226.1,155.0 L226.2,155.7 L226.4,156.4 L226.6,157.1 L226.7,157.7 L226.9,158.4 L227.1,159.1 L227.3,159.8 L227.4,160.4 L227.6,161.1 L227.8,161.8 L228.0,162.5 L228.1,163.1 L228.3,163.8 L228.5,164.5 L228.7,165.1 L228.9,165.8 L229.0,166.5 L229.2,167.2 L229.4,167.8 L229.6,168.5 L229.8,169.2 L229.9,169.8 L230.1,170.5 L230.3,171.2 L230.5,171.8 L230.7,172.5 L230.9,173.2 L231.1,173.9 L231.3,174.5 L231.5,175.2 L231.7,175.9 L231.9,176.5 L232.1,177.2 L232.2,177.9 L232.5,178.5 L232.7,179.2 L232.9,179.8 L233.1,180.5 L233.3,181.2 L233.5,181.8 L233.7,182.5 L233.9,183.2 L234.1,183.8 L234.3,184.5 L234.5,185.1 L234.8,185.8 L235.0,186.5 L235.2,187.1 L235.4,187.8 L235.6,188.4 L235.9,189.1 L236.1,189.8 L236.3,190.4 L236.6,191.1 L236.8,191.7 L237.0,192.4 L237.3,193.0 L237.5,193.7 L237.8,194.4 L238.0,195.0 L238.2,195.7 L238.5,196.3 L238.7,197.0 L239.0,197.6 L239.3,198.3 L239.5,198.9 L239.8,199.6 L240.0,200.2 L240.3,200.9 L240.6,201.5 L240.8,202.2 L241.1,202.8 L241.4,203.5 L241.7,204.1 L242.0,204.8 L242.2,205.4 L242.5,206.1 L242.8,206.7 L243.1,207.4 L243.4,208.0 L243.7,208.7 L244.0,209.3 L244.3,210.0 L244.6,210.6 L244.9,211.3 L245.2,211.9 L245.5,212.5 L245.9,213.2 L246.2,213.8 L246.5,214.5 L246.8,215.1 L247.2,215.7 L247.5,216.4 L247.8,217.0 L248.2,217.7 L248.5,218.3 L248.9,218.9 L249.2,219.5 L249.6,220.2 L249.9,220.8 L250.3,221.4 L250.7,222.0 L251.1,222.6 L251.4,223.2 L251.8,223.8 L252.2,224.4 L252.6,225.0 L253.0,225.6 L253.4,226.1 L253.8,226.7 L254.2,227.3 L254.7,227.8 L255.1,228.4 L255.5,228.9 L256.0,229.5 L256.4,230.0 L256.9,230.5 L257.3,231.0 L257.8,231.5 L258.2,232.0 L258.7,232.5 L259.2,233.0 L259.7,233.4 L260.2,233.9 L260.7,234.3 L261.2,234.8 L261.7,235.2 L262.2,235.6 L262.8,236.0 L263.3,236.4 L263.9,236.8 L264.4,237.2 L265.0,237.5 L265.5,237.9 L266.1,238.2 L266.7,238.5 L267.3,238.8 L267.9,239.1 L268.5,239.4 L269.1,239.7 L269.7,239.9 L270.4,240.2 L271.0,240.4 L271.6,240.7 L272.3,240.9 L272.9,241.1 L273.6,241.3 L274.3,241.5 L274.9,241.6 L275.6,241.8 L276.3,242.0 L277.0,242.1 L277.7,242.3 L278.3,242.4 L279.0,242.5 L279.7,242.6 L280.4,242.8 L281.1,242.9 L281.9,243.0 L282.6,243.1 L283.3,243.1 L284.0,243.2 L284.7,243.3 L285.4,243.4 L286.2,243.4 L286.9,243.5 L287.6,243.5 L288.3,243.6 L289.1,243.6 L289.8,243.7 L290.5,243.7 L291.2,243.7 L292.0,243.8 L292.7,243.8 L293.4,243.8 L294.2,243.8 L294.9,243.9 L295.6,243.9 L296.3,243.9 L297.1,243.9 L297.8,243.9 L298.5,243.9 L299.2,244.0 L299.9,244.0 L300.6,244.0 L301.3,244.0 L302.0,244.0 L302.8,244.0 L303.5,244.0 L304.2,244.0 L304.9,244.1 L305.6,244.1 L306.3,244.1 L307.0,244.1 L307.6,244.1 L308.3,244.1 L309.0,244.1 L309.7,244.1 L310.4,244.1 L311.1,244.2 L311.8,244.2 L312.5,244.2 L313.2,244.2 L313.9,244.2 L314.5,244.2 L315.2,244.2 L315.9,244.2 L316.6,244.2 L317.3,244.2 L318.0,244.2 L318.6,244.2 L319.3,244.3 L320.0,244.3 L320.7,244.3 L321.4,244.3 L322.1,244.3 L322.7,244.3 L323.4,244.3 L324.1,244.3 L324.8,244.3 L325.5,244.3 L326.2,244.3 L326.9,244.3 L327.6,244.3 L328.2,244.4 L328.9,244.4 L329.6,244.4 L330.3,244.4 L331.0,244.4 L331.7,244.4 L332.4,244.4 L333.1,244.4 L333.8,244.4 L334.5,244.4 L335.2,244.4 L335.9,244.4 L336.6,244.5 L337.3,244.5 L338.1,244.5 L338.8,244.5 L339.5,244.5 L340.2,244.5 L340.9,244.5 L341.6,244.5 L342.3,244.5 L343.0,244.5 L343.7,244.5 L344.4,244.6 L345.2,244.6 L345.9,244.6 L346.6,244.6 L347.3,244.6 L348.0,244.6 L348.7,244.6 L349.4,244.6 L350.1,244.6 L350.9,244.6 L351.6,244.6 L352.3,244.6 L353.0,244.7 L353.7,244.7 L354.4,244.7 L355.1,244.7 L355.8,244.7 L356.5,244.7 L357.2,244.7 L357.9,244.7 L358.6,244.7 L359.3,244.7 L360.0,244.7 L360.7,244.7 L361.4,244.8 L362.1,244.8 L362.8,244.8 L363.5,244.8 L364.2,244.8 L364.8,244.8 L365.5,244.8 L366.2,244.8 L366.8,244.8"/>
<path stroke="#1433ff" d="M50.8,183.2 L51.4,182.8 L52.0,182.4 L52.6,182.0 L53.2,181.6 L53.8,181.2 L54.4,180.8 L55.0,180.4 L55.6,180.0 L56.1,179.6 L56.7,179.1 L57.2,178.7 L57.8,178.3 L58.3,177.8 L58.8,177.3 L59.4,176.9 L59.9,176.4 L60.4,175.9 L60.9,175.5 L61.4,175.0 L61.9,174.5 L62.4,174.0 L62.9,173.5 L63.4,173.0 L63.8,172.5 L64.3,172.0 L64.8,171.5 L65.2,171.0 L65.7,170.4 L66.1,169.9 L66.6,169.4 L67.0,168.9 L67.5,168.3 L67.9,167.8 L68.3,167.2 L68.7,166.7 L69.2,166.1 L69.6,165.6 L70.0,165.0 L70.4,164.5 L70.8,163.9 L71.2,163.3 L71.6,162.8 L72.0,162.2 L72.4,161.6 L72.8,161.0 L73.2,160.5 L73.6,159.9 L73.9,159.3 L74.3,158.7 L74.7,158.1 L75.1,157.5 L75.4,156.9 L75.8,156.3 L76.2,155.7 L76.6,155.1 L76.9,154.6 L77.3,154.0 L77.7,153.4 L78.0,152.7 L78.4,152.1 L78.7,151.5 L79.1,150.9 L79.5,150.3 L79.8,149.7 L80.2,149.1 L80.5,148.5 L80.9,147.9 L81.2,147.3 L81.6,146.7 L81.9,146.1 L82.3,145.5 L82.7,144.9 L83.0,144.3 L83.4,143.7 L83.7,143.0 L84.1,142.4 L84.4,141.8 L84.8,141.2 L85.2,140.6 L85.5,140.0 L85.9,139.4 L86.2,138.8 L86.6,138.2 L87.0,137.6 L87.3,137.0 L87.7,136.4 L88.1,135.8 L88.5,135.2 L88.8,134.6 L89.2,134.1 L89.6,133.5 L90.0,132.9 L90.4,132.3 L90.7,131.7 L91.1,131.1 L91.5,130.6 L91.9,130.0 L92.3,129.4 L92.7,128.8 L93.1,128.3 L93.5,127.7 L93.9,127.1 L94.3,126.6 L94.7,126.0 L95.1,125.4 L95.5,124.9 L95.9,124.3 L96.3,123.7 L96.7,123.2 L97.1,122.6 L97.5,122.0 L98.0,121.5 L98.4,120.9 L98.8,120.3 L99.2,119.8 L99.6,119.2 L100.0,118.7 L100.4,118.1 L100.8,117.5 L101.1,116.9 L101.5,116.4 L101.9,115.8 L102.3,115.2 L102.7,114.7 L103.1,114.1 L103.5,113.5 L103.9,112.9 L104.2,112.3 L104.6,111.8 L105.0,111.2 L105.4,110.6 L105.7,110.0 L106.1,109.4 L106.5,108.8 L106.9,108.3 L107.2,107.7 L107.6,107.1 L108.0,106.5 L108.3,105.9 L108.7,105.3 L109.0,104.7 L109.4,104.1 L109.8,103.5 L110.1,102.9 L110.5,102.3 L110.8,101.7 L111.2,101.1 L111.5,100.5 L111.9,99.9 L112.2,99.2 L112.6,98.6 L112.9,98.0 L113.2,97.4 L113.6,96.8 L113.9,96.2 L114.3,95.5 L114.6,94.9 L115.0,94.3 L115.3,93.7 L115.6,93.1 L116.0,92.4 L116.3,91.8 L116.7,91.2 L117.0,90.6 L117.3,89.9 L117.7,89.3 L118.0,88.7 L118.3,88.1 L118.7,87.4 L119.0,86.8 L119.3,86.2 L119.7,85.6 L120.0,84.9 L120.4,84.3 L120.7,83.7 L121.0,83.1 L121.4,82.5 L121.7,81.8 L122.1,81.2 L122.4,80.6 L122.7,80.0 L123.1,79.4 L123.4,78.8 L123.8,78.2 L124.1,77.6 L124.5,76.9 L124.8,76.3 L125.2,75.7 L125.5,75.1 L125.8,74.5 L126.2,73.9 L126.6,73.3 L126.9,72.7 L127.3,72.2 L127.6,71.6 L128.0,71.0 L128.3,70.4 L128.7,69.8 L129.1,69.2 L129.4,68.6 L129.8,68.1 L130.2,67.5 L130.5,66.9 L130.9,66.3 L131.3,65.7 L131.6,65.2 L132.0,64.6 L132.4,64.0 L132.7,63.5 L133.1,62.9 L133.5,62.3 L133.9,61.7 L134.2,61.2 L134.6,60.6 L135.0,60.0 L135.4,59.4 L135.8,58.9 L136.1,58.3 L136.5,57.7 L136.9,57.2 L137.3,56.6 L137.7,56.0 L138.0,55.4 L138.4,54.9 L138.8,54.3 L139.2,53.7 L139.6,53.1 L140.0,52.5 L140.4,52.0 L140.7,51.4 L141.1,50.8 L141.5,50.2 L141.9,49.6 L142.3,49.0 L142.7,48.4 L143.1,47.8 L143.5,47.2 L143.8,46.6 L144.2,46.0 L144.6,45.4 L145.0,44.8 L145.4,44.2 L145.8,43.6 L146.2,43.0 L146.6,42.3 L147.0,41.7 L147.4,41.1 L147.8,40.5 L148.2,39.9 L148.6,39.3 L149.0,38.7 L149.4,38.1 L149.8,37.5 L150.2,36.9 L150.6,36.3 L151.0,35.7 L151.5,35.1 L151.9,34.5 L152.3,34.0 L152.8,33.4 L153.2,32.9 L153.7,32.4 L154.2,31.8 L154.6,31.3 L155.1,30.8 L155.6,30.3 L156.1,29.9 L156.6,29.4 L157.1,29.0 L157.6,28.5 L158.1,28.1 L158.7,27.7 L159.2,27.3 L159.8,27.0 L160.4,26.6 L160.9,26.3 L161.5,26.0 L162.1,25.7 L162.7,25.5 L163.4,25.2 L164.0,25.0 L164.7,24.8 L165.3,24.6 L166.0,24.5 L166.7,24.3 L167.4,24.2 L168.1,24.2 L168.7,24.1 L169.4,24.1 L170.1,24.1 L170.8,24.1 L171.5,24.2 L172.2,24.2 L172.9,24.4 L173.6,24.5 L174.2,24.7 L174.9,24.8 L175.5,25.1 L176.1,25.3 L176.7,25.6 L177.3,25.9 L177.9,26.3 L178.5,26.6 L179.0,27.0 L179.6,27.4 L180.1,27.8 L180.6,28.3 L181.1,28.7 L181.7,29.2 L182.2,29.7 L182.6,30.2 L183.1,30.7 L183.6,31.3 L184.1,31.8 L184.6,32.3 L185.0,32.9 L185.5,33.5 L186.0,34.0 L186.4,34.6 L186.9,35.2 L187.3,35.7 L187.8,36.3 L188.3,36.9 L188.7,37.4 L189.2,38.0 L189.6,38.6 L190.1,39.1 L190.6,39.7 L191.0,40.2 L191.5,40.8 L191.9,41.3 L192.4,41.9 L192.9,42.4 L193.3,43.0 L193.8,43.5 L194.2,44.1 L194.7,44.6 L195.1,45.1 L195.6,45.7 L196.1,46.2 L196.5,46.8 L197.0,47.3 L197.4,47.8 L197.9,48.4 L198.3,48.9 L198.7,49.4 L199.2,50.0 L199.6,50.5 L200.0,51.1 L200.5,51.6 L200.9,52.2 L201.3,52.7 L201.8,53.3 L202.2,53.8 L202.6,54.4 L203.0,54.9 L203.4,55.5 L203.8,56.0 L204.2,56.6 L204.6,57.1 L205.0,57.7 L205.4,58.3 L205.8,58.8 L206.2,59.4 L206.5,60.0 L206.9,60.6 L207.3,61.1 L207.6,61.7 L208.0,62.3 L208.3,62.9 L208.7,63.5 L209.0,64.1 L209.3,64.7 L209.7,65.3 L210.0,65.9 L210.3,66.6 L210.6,67.2 L211.0,67.8 L211.3,68.4 L211.6,69.0 L211.9,69.7 L212.2,70.3 L212.5,70.9 L212.8,71.6 L213.1,72.2 L213.3,72.8 L213.6,73.5 L213.9,74.1 L214.2,74.7 L214.5,75.4 L214.8,76.0 L215.0,76.7 L215.3,77.3 L215.6,78.0 L215.9,78.6 L216.1,79.3 L216.4,79.9 L216.7,80.6 L216.9,81.2 L217.2,81.9 L217.5,82.5 L217.7,83.2 L218.0,83.8 L218.3,84.5 L218.5,85.2 L218.8,85.8 L219.1,86.5 L219.3,87.1 L219.6,87.8 L219.9,88.4 L220.1,89.1 L220.4,89.7 L220.7,90.4 L221.0,91.0 L221.2,91.7 L221.5,92.3 L221.8,93.0 L222.1,93.6 L222.4,94.2 L222.7,94.9 L222.9,95.5 L223.2,96.2 L223.5,96.8 L223.8,97.4 L224.1,98.1 L224.4,98.7 L224.7,99.3 L225.0,100.0 L225.3,100.6 L225.6,101.2 L225.9,101.9 L226.2,102.5 L226.5,103.1 L226.8,103.8 L227.1,104.4 L227.4,105.0 L227.7,105.6 L228.0,106.3 L228.3,106.9 L228.6,107.5 L228.9,108.2 L229.2,108.8 L229.5,109.4 L229.8,110.0 L230.1,110.7 L230.4,111.3 L230.6,111.9 L230.9,112.6 L231.2,113.2 L231.5,113.8 L231.8,114.5 L232.0,115.1 L232.3,115.7 L232.6,116.4 L232.9,117.0 L233.1,117.7 L233.4,118.3 L233.6,118.9 L233.9,119.6 L234.1,120.2 L234.4,120.9 L234.6,121.5 L234.9,122.2 L235.1,122.8 L235.3,123.5 L235.6,124.2 L235.8,124.8 L236.0,125.5 L236.2,126.1 L236.4,126.8 L236.6,127.5 L236.8,128.1 L237.0,128.8 L237.2,129.5 L237.4,130.2 L237.6,130.8 L237.7,131.5 L237.9,132.2 L238.1,132.9 L238.3,133.6 L238.4,134.2 L238.6,134.9 L238.8,135.6 L238.9,136.3 L239.1,137.0 L239.2,137.7 L239.4,138.3 L239.6,139.0 L239.7,139.7 L239.9,140.4 L240.0,141.1 L240.2,141.8 L240.3,142.5 L240.5,143.2 L240.6,143.9 L240.8,144.6 L240.9,145.2 L241.1,145.9 L241.2,146.6 L241.4,147.3 L241.5,148.0 L241.7,148.7 L241.9,149.4 L242.0,150.1 L242.2,150.8 L242.3,151.4 L242.5,152.1 L242.6,152.8 L242.8,153.5 L243.0,154.2 L243.1,154.9 L243.3,155.6 L243.5,156.2 L243.7,156.9 L243.8,157.6 L244.0,158.3 L244.2,158.9 L244.4,159.6 L244.6,160.3 L244.8,161.0 L245.0,161.6 L245.2,162.3 L245.4,163.0 L245.6,163.6 L245.8,164.3 L246.0,165.0 L246.2,165.6 L246.5,166.3 L246.7,166.9 L246.9,167.6 L247.1,168.2 L247.4,168.9 L247.6,169.6 L247.9,170.2 L248.1,170.9 L248.3,171.5 L248.6,172.1 L248.8,172.8 L249.1,173.4 L249.4,174.1 L249.6,174.7 L249.9,175.4 L250.1,176.0 L250.4,176.7 L250.7,177.3 L251.0,177.9 L251.2,178.6 L251.5,179.2 L251.8,179.9 L252.1,180.5 L252.3,181.1 L252.6,181.8 L252.9,182.4 L253.2,183.0 L253.5,183.7 L253.8,184.3 L254.0,184.9 L254.3,185.6 L254.6,186.2 L254.9,186.9 L255.2,187.5 L255.5,188.1 L255.8,188.8 L256.1,189.4 L256.4,190.0 L256.7,190.7 L257.0,191.3 L257.3,192.0 L257.6,192.6 L257.9,193.2 L258.1,193.9 L258.4,194.5 L258.7,195.1 L259.0,195.8 L259.3,196.4 L259.6,197.1 L259.9,197.7 L260.2,198.3 L260.5,199.0 L260.8,199.6 L261.1,200.3 L261.5,200.9 L261.8,201.5 L262.1,202.2 L262.4,202.8 L262.7,203.4 L263.0,204.1 L263.3,204.7 L263.6,205.3 L264.0,205.9 L264.3,206.6 L264.6,207.2 L265.0,207.8 L265.3,208.4 L265.6,209.0 L266.0,209.7 L266.3,210.3 L266.7,210.9 L267.0,211.5 L267.4,212.1 L267.7,212.7 L268.1,213.3 L268.5,213.9 L268.8,214.5 L269.2,215.1 L269.6,215.6 L270.0,216.2 L270.4,216.8 L270.8,217.4 L271.2,217.9 L271.6,218.5 L272.0,219.1 L272.4,219.6 L272.9,220.2 L273.3,220.7 L273.7,221.3 L274.2,221.8 L274.6,222.3 L275.1,222.9 L275.5,223.4 L276.0,223.9 L276.5,224.4 L277.0,224.9 L277.4,225.4 L277.9,225.9 L278.4,226.4 L278.9,226.9 L279.4,227.4 L280.0,227.8 L280.5,228.3 L281.0,228.8 L281.5,229.2 L282.1,229.7 L282.6,230.1 L283.2,230.5 L283.7,231.0 L284.3,231.4 L284.9,231.8 L285.4,232.2 L286.0,232.6 L286.6,233.0 L287.2,233.4 L287.7,233.8 L288.3,234.1 L288.9,234.5 L289.5,234.8 L290.1,235.2 L290.8,235.5 L291.4,235.8 L292.0,236.2 L292.6,236.5 L293.2,236.8 L293.9,237.1 L294.5,237.4 L295.1,237.6 L295.8,237.9 L296.4,238.2 L297.1,238.4 L297.7,238.7 L298.4,238.9 L299.0,239.1 L299.7,239.3 L300.3,239.5 L301.0,239.7 L301.7,239.9 L302.3,240.1 L303.0,240.2 L303.7,240.4 L304.4,240.5 L305.1,240.7 L305.7,240.8 L306.4,240.9 L307.1,241.1 L307.8,241.2 L308.5,241.3 L309.2,241.4 L309.9,241.5 L310.6,241.6 L311.3,241.6 L312.0,241.7 L312.7,241.8 L313.4,241.9 L314.1,241.9 L314.8,242.0 L315.5,242.0 L316.2,242.1 L316.9,242.1 L317.6,242.2 L318.3,242.2 L319.0,242.2 L319.7,242.3 L320.5,242.3 L321.2,242.3 L321.9,242.3 L322.6,242.4 L323.3,242.4 L324.0,242.4 L324.7,242.4 L325.4,242.4 L326.2,242.4 L326.9,242.5 L327.6,242.5 L328.3,242.5 L329.0,242.5 L329.7,242.5 L330.4,242.5 L331.1,242.6 L331.8,242.6 L332.5,242.6 L333.2,242.6 L333.9,242.6 L334.6,242.7 L335.3,242.7 L336.0,242.7 L336.7,242.8 L337.4,242.8 L338.1,242.8 L338.8,242.9 L339.5,242.9 L340.2,242.9 L340.9,243.0 L341.6,243.0 L342.3,243.0 L343.0,243.1 L343.7,243.1 L344.3,243.2 L345.0,243.2 L345.7,243.2 L346.4,243.3 L347.1,243.3 L347.8,243.3 L348.5,243.4 L349.2,243.4 L349.9,243.4 L350.6,243.5 L351.2,243.5 L351.9,243.5 L352.6,243.6 L353.3,243.6 L354.0,243.6 L354.7,243.6 L355.4,243.7 L356.1,243.7 L356.8,243.7 L357.5,243.7 L358.2,243.7 L358.9,243.7 L359.6,243.7 L360.3,243.7 L361.0,243.7 L361.7,243.7 L362.4,243.7 L363.1,243.7 L363.8,243.7 L364.5,243.7 L365.3,243.7 L366.0,243.6 L366.7,243.6 L366.8,243.6"/>
</g>
<g stroke="#000" stroke-width="2" fill="none" stroke-linecap="butt">
<path d="M50.8,0.8 V257.4 M49.8,256.4 H368.6"/>
<path d="M50.80,256.4 v6.5 M77.20,256.4 v4.5 M103.60,256.4 v6.5 M130.00,256.4 v4.5 M156.40,256.4 v6.5 M182.80,256.4 v4.5 M209.20,256.4 v6.5 M235.60,256.4 v4.5 M262.00,256.4 v6.5 M288.40,256.4 v4.5 M314.80,256.4 v6.5 M341.20,256.4 v4.5 M367.60,256.4 v6.5 M50.8,245.05 h-5.5 M50.8,222.94 h-3.9 M50.8,200.83 h-5.5 M50.8,178.72 h-3.9 M50.8,156.61 h-5.5 M50.8,134.50 h-3.9 M50.8,112.39 h-5.5 M50.8,90.28 h-3.9 M50.8,68.17 h-5.5 M50.8,46.06 h-3.9 M50.8,23.95 h-5.5 M50.8,1.84 h-3.9 "/>
</g>
<g font-family="'Liberation Sans', sans-serif" font-weight="bold" font-size="14.3px" fill="#000" stroke="#000" stroke-width="0.3">
<text transform="translate(49.2,279.7) scale(0.945,1)" text-anchor="middle">320</text>
<text transform="translate(102.0,279.7) scale(0.945,1)" text-anchor="middle">340</text>
<text transform="translate(154.8,279.7) scale(0.945,1)" text-anchor="middle">360</text>
<text transform="translate(207.6,279.7) scale(0.945,1)" text-anchor="middle">380</text>
<text transform="translate(260.4,279.7) scale(0.945,1)" text-anchor="middle">400</text>
<text transform="translate(313.2,279.7) scale(0.945,1)" text-anchor="middle">420</text>
<text transform="translate(366.0,279.7) scale(0.945,1)" text-anchor="middle">440</text>
<text transform="translate(41.9,249.1) scale(0.945,1)" text-anchor="end">0.0</text>
<text transform="translate(41.9,204.8) scale(0.945,1)" text-anchor="end">0.2</text>
<text transform="translate(41.9,160.6) scale(0.945,1)" text-anchor="end">0.4</text>
<text transform="translate(41.9,116.4) scale(0.945,1)" text-anchor="end">0.6</text>
<text transform="translate(41.9,72.2) scale(0.945,1)" text-anchor="end">0.8</text>
<text transform="translate(41.9,28.0) scale(0.945,1)" text-anchor="end">1.0</text>
</g>
<g font-family="'Liberation Sans', sans-serif" font-weight="bold" font-size="14.4px" fill="#000">
<text x="211.7" y="301" text-anchor="middle" letter-spacing="0.06">Wavelength (nm)</text>
<text transform="translate(13.2,131) rotate(-90)" text-anchor="middle">Absorption (a.u.)</text>
</g>
<rect x="257.5" y="19.5" width="95.7" height="90.3" fill="#fff" stroke="#444" stroke-width="1"/>
<g fill="none" stroke-width="3" stroke-linecap="round">
<path stroke="#000000" d="M262.8,36.9 H295"/>
<path stroke="#ff0000" d="M262.8,54.5 H295"/>
<path stroke="#55ff00" d="M262.8,72.3 H295"/>
<path stroke="#1433ff" d="M262.8,94.4 H295"/>
</g>
<g font-family="'Liberation Sans', sans-serif" font-size="14px" fill="#000">
<text x="299.2" y="41.8" letter-spacing="0.2">Hexane</text>
<text x="299.6" y="59.6" letter-spacing="0.36">Toluene</text>
<text x="299.4" y="77.5">CHCl<tspan font-size="9.3px" dy="5.4">3</tspan></text>
<text x="299.4" y="99.6">CH<tspan font-size="9.3px" dy="5.4">3</tspan><tspan dy="-5.4">OH</tspan></text>
</g>
</svg>
</body></html>
